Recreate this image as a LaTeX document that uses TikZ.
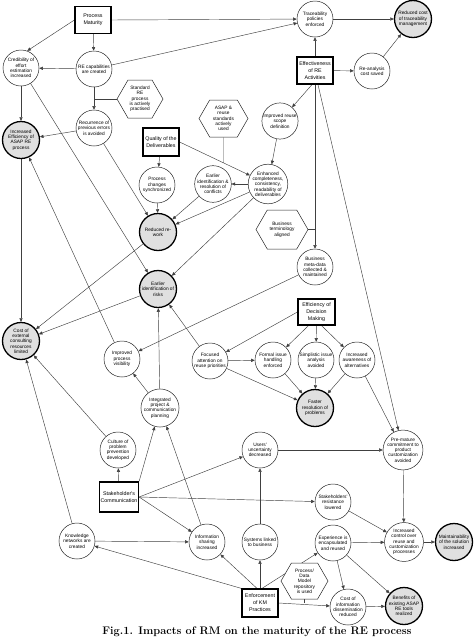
\documentclass[tikz,border=0pt]{standalone}
\usepackage{fontspec}
\newfontfamily\arialf{Liberation Sans}
\usetikzlibrary{arrows.meta,shapes.symbols,backgrounds}
\begin{document}
\begin{tikzpicture}[x=1pt,y=-1pt,
  every node/.style={font=\arialf\fontsize{4.8}{5.3}\selectfont, align=center, inner sep=0pt},
  circ/.style={circle, draw=black!85, line width=0.5pt, minimum size=36pt, fill=white},
  goal/.style={circle, draw=black, line width=1.3pt, minimum size=37pt, fill=black!12},
  boxn/.style={rectangle, draw=black, line width=1.2pt, minimum width=36pt, minimum height=27pt, fill=white, font=\arialf\fontsize{5.3}{7}\selectfont},
  hexn/.style={shape=signal, signal to=east and west, signal pointer angle=120, draw=black!85, line width=0.5pt, fill=white},
  arr/.style={draw=black!75, line width=0.45pt, -{Triangle[length=3.6pt,width=3.2pt]}},
  ln/.style={draw=black!75, line width=0.45pt}
]
\useasboundingbox (0,0) rectangle (474,638);

\node[boxn] (pm) at (93,20) {Process\\Maturity};
\node[circ] (cred) at (21,68) {Credibility of\\effort\\estimation\\increased};
\node[circ] (recap) at (94,69) {RE capabilities\\are created};
\node[hexn, minimum width=46pt, minimum height=38pt] (stdre) at (140,99) {Standard\\RE\\process\\is actively\\practised};
\node[circ] (recur) at (94,128) {Recurrence of\\previous errors\\is avoided};
\node[goal] (effic) at (21,140) {Increased\\Efficiency of\\ASAP RE\\process};
\node[boxn, minimum height=28pt] (qual) at (161,142) {Quality of the\\Deliverables};
\node[circ] (trace) at (315,19) {Traceability\\policies\\enforced};
\node[goal] (redtr) at (413,19) {Reduced cost\\of traceability\\management};
\node[boxn] (eff) at (315,70.5) {Effectiveness\\of RE\\Activities};
\node[circ] (reana) at (372,71) {Re-analysis\\cost saved};
\node[hexn, minimum width=49pt, minimum height=37pt] (asap) at (223.5,118.5) {ASAP \&\\reuse\\standards\\actively\\used};
\node[circ] (scope) at (280,121) {Improved reuse\\scope\\definition};
\node[circ] (pchg) at (157,185) {Process\\changes\\synchronized};
\node[circ] (econf) at (213,184) {Earlier\\identification \&\\resolution of\\conflicts};
\node[circ, minimum size=38pt] (enh) at (268,184) {Enhanced\\completeness,\\consistency,\\readability of\\deliverables};
\node[goal] (rework) at (158,232) {Reduced re-\\work};
\node[hexn, minimum width=52pt, minimum height=39pt] (bterm) at (282,229.5) {Business\\terminology\\aligned};
\node[circ] (meta) at (315,267) {Business\\meta-data\\collected \&\\maintained};
\node[goal] (erisk) at (158,289) {Earlier\\identification of\\risks};
\node[boxn, minimum width=37pt, minimum height=26pt] (edm) at (316.5,312) {Efficiency of\\Decision\\Making};
\node[goal] (costext) at (21,341) {Cost of\\external\\consulting\\resources\\limited};
\node[circ] (vis) at (122,359) {Improved\\process\\visibility};
\node[circ] (focus) at (210,361) {Focused\\attention on\\reuse priorities};
\node[circ] (formal) at (273,360) {Formal issue\\handling\\enforced};
\node[circ] (simp) at (316,360) {Simplistic issue\\analysis\\avoided};
\node[circ] (aware) at (357,360) {Increased\\awareness of\\alternatives};
\node[goal] (faster) at (315,408) {Faster\\resolution of\\problems};
\node[circ] (integ) at (160,408) {Integrated\\project \&\\communication\\planning};
\node[circ] (culture) at (118,450) {Culture of\\problem\\prevention\\developed};
\node[circ] (users) at (260,450) {Users'\\uncertainty\\decreased};
\node[circ, minimum size=37pt] (premat) at (403,450) {Pre-mature\\commitment to\\product\\customization\\avoided};
\node[boxn, minimum width=39pt, minimum height=30pt] (stake) at (119,497) {Stakeholder's\\Communication};
\node[circ] (know) at (77,541) {Knowledge\\networks are\\created};
\node[circ] (info) at (207,542) {Information\\sharing\\increased};
\node[circ] (sys) at (260,542) {Systems linked\\to business};
\node[circ] (resist) at (333,502) {Stakeholders'\\resistance\\lowered};
\node[circ] (exper) at (333,543) {Experience is\\encapsulated\\and reused};
\node[circ, minimum size=38pt] (control) at (404,542) {Increased\\control over\\reuse and\\customization\\processes};
\node[goal] (maint) at (454,542) {Maintainability\\of the solution\\increased};
\node[hexn, minimum width=47pt, minimum height=36pt] (pdm) at (304.5,581) {Process/\\Data\\Model\\repository\\is used};
\node[boxn, minimum height=28pt] (enf) at (260,603) {Enforcement\\of KM\\Practices};
\node[circ] (costinfo) at (348,607) {Cost of\\information\\dissemination\\reduced};
\node[goal] (benef) at (404,606) {Benefits of\\existing ASAP\\RE tools\\realized};

\node[font=\rmfamily\bfseries\fontsize{11}{13}\selectfont, anchor=north] (cap) at (257,626.5) {Fig.1. Impacts of RM on the maturity of the RE process};

\begin{scope}[on background layer]
\draw[arr] (pm.west) -- (cred.70);
\draw[arr] (pm) -- (recap);
\draw[arr] (pm.east) -- (trace);
\draw[arr] (recap) -- (cred);
\draw[arr] (recap) -- (recur);
\draw[arr] (recap) -- (trace);
\draw[ln] (stdre.west) -- (stdre.west -| recap);
\draw[arr] (recur) -- (effic);
\draw[arr] (recur) -- (rework);
\draw[arr] (cred) -- (effic);
\draw[arr] (cred) -- (erisk);
\draw[arr] (effic) -- (costext);
\draw[arr] (vis) -- (effic);
\draw[arr] (eff) -- (trace);
\draw[arr] (trace) -- (redtr);
\draw[arr] (eff) -- (reana);
\draw[arr] (reana) -- (redtr);
\draw[arr] ([xshift=-3pt]eff.south) -- (scope);
\draw[arr] (eff.south) -- (meta.north);
\draw[ln] (bterm.east) -- (bterm.east -| eff.south);
\draw[arr] ([xshift=3pt]eff.south) -- (premat);
\draw[arr] (scope) -- (enh);
\draw[arr] (qual.east) -- (enh);
\draw[ln] (asap.south) -- (intersection of qual.east--enh.center and asap.south--asap.center);
\draw[arr] (qual) -- (pchg);
\draw[arr] (enh) -- (econf);
\draw[arr] (econf) -- (rework);
\draw[arr] (pchg) -- (rework);
\draw[arr] (enh) -- (rework);
\draw[arr] (enh) -- (erisk);
\draw[arr] (rework) -- (costext);
\draw[arr] (erisk) -- (costext);
\draw[arr] (meta) -- (vis);
\draw[arr] (integ) -- (erisk);
\draw[arr] (focus) -- (erisk);
\draw[arr] (edm.west) -- (focus);
\draw[arr] ([xshift=-8pt]edm.south) -- (formal);
\draw[arr] (edm) -- (simp);
\draw[arr] ([xshift=5pt]edm.south) -- (aware);
\draw[arr] (focus) -- (formal);
\draw[arr] (focus) -- (faster);
\draw[arr] (formal) -- (faster);
\draw[arr] (simp) -- (faster);
\draw[arr] (aware) -- (faster);
\draw[arr] (aware) -- (premat);
\draw[arr] (users) -- (premat);
\draw[arr] (integ) -- (vis);
\draw[arr] (info) -- (integ);
\draw[arr] (stake.north east) -- (integ);
\draw[arr] (stake) -- (culture);
\draw[arr] (culture) -- (costext);
\draw[arr] (know) -- (costext);
\draw[arr] (stake.east) -- (users);
\draw[arr] (stake.east) -- (resist);
\draw[arr] (stake.east) -- (info);
\draw[arr] (know) -- (info);
\draw[arr] (enf.north west) -- (know);
\draw[arr] ([xshift=-3pt]enf.north) -- (info);
\draw[arr] (enf) -- (sys);
\draw[arr] ([xshift=2pt]enf.north) -- (exper);
\draw[arr] (enf.east) -- (costinfo);
\draw[ln] (pdm.south) -- (pdm.south |- enf.east);
\draw[arr] (sys) -- (users);
\draw[arr] (exper) -- (control);
\draw[arr] (exper) -- (benef);
\draw[arr] (exper) -- (costinfo);
\draw[arr] (resist) -- (control);
\draw[arr] (premat) -- (control);
\draw[arr] (control) -- (maint);
\draw[arr] (costinfo) -- (benef);
\end{scope}
\end{tikzpicture}
\end{document}
